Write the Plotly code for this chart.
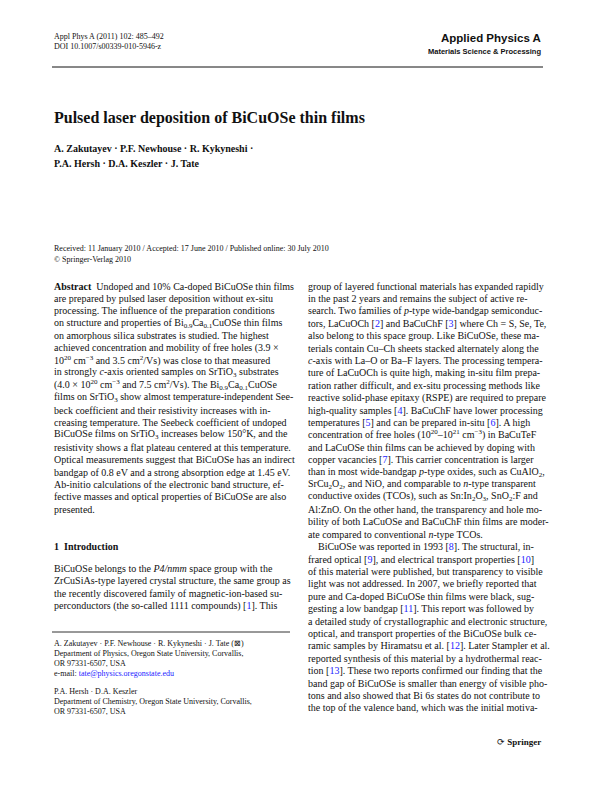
import plotly.graph_objects as go

SERIF = 'Liberation Serif'
SANS = 'Liberation Sans'
B = "<span style='color:#1a1aff'>%s</span>"
# the page body adds an 8px margin, so positions are shifted back by it
OFF = 8

HEADER_LEFT = ['Appl Phys A (2011) 102: 485–492', 'DOI 10.1007/s00339-010-5946-z']
TITLE = 'Pulsed laser deposition of BiCuOSe thin films'
AUTHORS = ['A. Zakutayev · P.F. Newhouse · R. Kykyneshi ·',
           'P.A. Hersh · D.A. Keszler · J. Tate']
DATES = ['Received: 11 January 2010 / Accepted: 17 June 2010 / Published online: 30 July 2010',
         '© Springer-Verlag 2010']

ABSTRACT = [
    '<b>Abstract</b>  Undoped and 10% Ca-doped BiCuOSe thin films',
    'are prepared by pulsed laser deposition without ex-situ',
    'processing. The influence of the preparation conditions',
    'on structure and properties of Bi<sub>0.9</sub>Ca<sub>0.1</sub>CuOSe thin films',
    'on amorphous silica substrates is studied. The highest',
    'achieved concentration and mobility of free holes (3.9 ×',
    '10<sup>20</sup> cm<sup>−3</sup> and 3.5 cm<sup>2</sup>/Vs) was close to that measured',
    'in strongly <i>c</i>-axis oriented samples on SrTiO<sub>3</sub> substrates',
    '(4.0 × 10<sup>20</sup> cm<sup>−3</sup> and 7.5 cm<sup>2</sup>/Vs). The Bi<sub>0.9</sub>Ca<sub>0.1</sub>CuOSe',
    'films on SrTiO<sub>3</sub> show almost temperature-independent See-',
    'beck coefficient and their resistivity increases with in-',
    'creasing temperature. The Seebeck coefficient of undoped',
    'BiCuOSe films on SrTiO<sub>3</sub> increases below 150°K, and the',
    'resistivity shows a flat plateau centered at this temperature.',
    'Optical measurements suggest that BiCuOSe has an indirect',
    'bandgap of 0.8 eV and a strong absorption edge at 1.45 eV.',
    'Ab-initio calculations of the electronic band structure, ef-',
    'fective masses and optical properties of BiCuOSe are also',
    'presented.',
]
INTRO = [
    'BiCuOSe belongs to the <i>P4/nmm</i> space group with the',
    'ZrCuSiAs-type layered crystal structure, the same group as',
    'the recently discovered family of magnetic-ion-based su-',
    'perconductors (the so-called 1111 compounds) [' + B % '1' + ']. This',
]
FOOTNOTES = [
    'A. Zakutayev · P.F. Newhouse · R. Kykyneshi · J. Tate (⊠)',
    'Department of Physics, Oregon State University, Corvallis,',
    'OR 97331-6507, USA',
    'e-mail: ' + B % 'tate@physics.oregonstate.edu',
]
FOOTNOTES2 = [
    'P.A. Hersh · D.A. Keszler',
    'Department of Chemistry, Oregon State University, Corvallis,',
    'OR 97331-6507, USA',
]
RIGHT_COL = [
    'group of layered functional materials has expanded rapidly',
    'in the past 2 years and remains the subject of active re-',
    'search. Two families of <i>p</i>-type wide-bandgap semiconduc-',
    'tors, LaCuOCh [' + B % '2' + '] and BaCuChF [' + B % '3' + '] where Ch = S, Se, Te,',
    'also belong to this space group. Like BiCuOSe, these ma-',
    'terials contain Cu–Ch sheets stacked alternately along the',
    '<i>c</i>-axis with La–O or Ba–F layers. The processing tempera-',
    'ture of LaCuOCh is quite high, making in-situ film prepa-',
    'ration rather difficult, and ex-situ processing methods like',
    'reactive solid-phase epitaxy (RSPE) are required to prepare',
    'high-quality samples [' + B % '4' + ']. BaCuChF have lower processing',
    'temperatures [' + B % '5' + '] and can be prepared in-situ [' + B % '6' + ']. A high',
    'concentration of free holes (10<sup>20</sup>–10<sup>21</sup> cm<sup>−3</sup>) in BaCuTeF',
    'and LaCuOSe thin films can be achieved by doping with',
    'copper vacancies [' + B % '7' + ']. This carrier concentration is larger',
    'than in most wide-bandgap <i>p</i>-type oxides, such as CuAlO<sub>2</sub>,',
    'SrCu<sub>2</sub>O<sub>2</sub>, and NiO, and comparable to <i>n</i>-type transparent',
    'conductive oxides (TCOs), such as Sn:In<sub>2</sub>O<sub>3</sub>, SnO<sub>2</sub>:F and',
    'Al:ZnO. On the other hand, the transparency and hole mo-',
    'bility of both LaCuOSe and BaCuChF thin films are moder-',
    'ate compared to conventional <i>n</i>-type TCOs.',
    '    BiCuOSe was reported in 1993 [' + B % '8' + ']. The structural, in-',
    'frared optical [' + B % '9' + '], and electrical transport properties [' + B % '10' + ']',
    'of this material were published, but transparency to visible',
    'light was not addressed. In 2007, we briefly reported that',
    'pure and Ca-doped BiCuOSe thin films were black, sug-',
    'gesting a low bandgap [' + B % '11' + ']. This report was followed by',
    'a detailed study of crystallographic and electronic structure,',
    'optical, and transport properties of the BiCuOSe bulk ce-',
    'ramic samples by Hiramatsu et al. [' + B % '12' + ']. Later Stampler et al.',
    'reported synthesis of this material by a hydrothermal reac-',
    'tion [' + B % '13' + ']. These two reports confirmed our finding that the',
    'band gap of BiCuOSe is smaller than energy of visible pho-',
    'tons and also showed that Bi 6<i>s</i> states do not contribute to',
    'the top of the valence band, which was the initial motiva-',
]

fig = go.Figure()


def add_lines(lines, x, y0, step, size, font=SERIF, anchor='left'):
    """Add one annotation per text line."""
    for i, line in enumerate(lines):
        fig.add_annotation(x=x - OFF, y=y0 - OFF + i * step, text=line, showarrow=False,
                           xanchor=anchor, yanchor='middle',
                           font={'family': font, 'size': size, 'color': '#111'})


add_lines(HEADER_LEFT, 52, 36, 10.5, 8)
add_lines(['<b>Applied Physics A</b>'], 543, 38, 0, 11.5, SANS, 'right')
add_lines(['<b>Materials Science & Processing</b>'], 543, 51, 0, 7.5, SANS, 'right')
fig.add_shape(type='line', x0=52 - OFF, x1=543 - OFF, y0=67 - OFF, y1=67 - OFF,
              line={'color': '#111', 'width': 1})
add_lines(['<b>' + TITLE + '</b>'], 52, 118, 0, 16)
add_lines(['<b>' + a + '</b>' for a in AUTHORS], 52, 148, 15, 10)
add_lines(DATES, 52, 248, 11, 8)
add_lines(ABSTRACT, 52, 286, 12.4, 10)
add_lines(['<b>1  Introduction</b>'], 52, 546, 0, 10)
add_lines(INTRO, 52, 568, 12.6, 10)
fig.add_shape(type='line', x0=52 - OFF, x1=290 - OFF, y0=632 - OFF, y1=632 - OFF,
              line={'color': '#333', 'width': 1})
add_lines(FOOTNOTES, 52, 643, 10, 8)
add_lines(FOOTNOTES2, 52, 691, 10, 8)
add_lines(RIGHT_COL, 306, 286, 12.41, 10)
add_lines(['⟳ <b>Springer</b>'], 543, 742, 0, 9, SERIF, 'right')

fig.update_xaxes(range=[0, 595], visible=False, fixedrange=True)
fig.update_yaxes(range=[791, 0], visible=False, fixedrange=True)
fig.update_layout(width=595, height=791, margin={'l': 0, 'r': 0, 't': 0, 'b': 0},
                  plot_bgcolor='white', paper_bgcolor='white', showlegend=False)

fig.write_html('out.html')
